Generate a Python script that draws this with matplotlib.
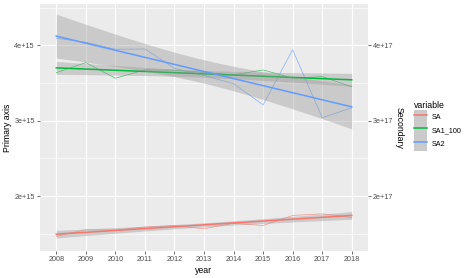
import numpy as np
import matplotlib
matplotlib.use("Agg")
import matplotlib.pyplot as plt
from matplotlib.patches import Patch
from matplotlib.lines import Line2D
from matplotlib.ticker import FuncFormatter, FixedLocator

plt.rcParams['font.family'] = ['Liberation Sans', 'DejaVu Sans']

years = [2008, 2009, 2010, 2011, 2012, 2013, 2014, 2015, 2016, 2017, 2018]
sa = [1.468, 1.554, 1.550, 1.590, 1.610, 1.567, 1.640, 1.610, 1.743, 1.765, 1.716]
sa1_100 = [3.637, 3.770, 3.563, 3.673, 3.670, 3.640, 3.607, 3.673, 3.563, 3.584, 3.450]
sa2 = [4.093, 4.040, 3.947, 3.950, 3.695, 3.600, 3.490, 3.210, 3.940, 3.040, 3.170]
series_names = ["SA", "SA1_100", "SA2"]
series_vals = [sa, sa1_100, sa2]
colors = ["#F8766D", "#00BA38", "#619CFF"]
scale = 1e15
sec_factor = 100
y_ticks = [2e15, 3e15, 4e15]
y_minor = [1.5e15, 2.5e15, 3.5e15, 4.5e15]

W, H = 474, 278
fig = plt.figure(figsize=(W / 100, H / 100), dpi=100)
ax = fig.add_axes([40 / W, 27 / H, 328 / W, 247 / H])
ax.set_facecolor('#EBEBEB')
for s in ax.spines.values():
    s.set_visible(False)

x = np.array(years, dtype=float)
# raw lines
for vals, c in zip(series_vals, colors):
    ax.plot(x, np.array(vals) * scale, color=c, lw=0.5, alpha=0.75, zorder=2)

# lm smooth with 95% CI
t975 = 2.262
xs = np.linspace(x.min(), x.max(), 80)
for vals, c in zip(series_vals, colors):
    y = np.array(vals) * scale
    b, a = np.polyfit(x, y, 1)
    fit = a + b * xs
    resid = y - (a + b * x)
    n = len(x)
    s = np.sqrt(np.sum(resid ** 2) / (n - 2))
    sxx = np.sum((x - x.mean()) ** 2)
    se = s * np.sqrt(1 / n + (xs - x.mean()) ** 2 / sxx)
    ax.fill_between(xs, fit - t975 * se, fit + t975 * se, color='#999999', alpha=0.4, lw=0, zorder=3)
    ax.plot(xs, fit, color=c, lw=1.1, zorder=3)

ax.set_xlim(2007.45, 2018.55)
ax.set_ylim(1.272e15, 4.547e15)
ax.set_xticks(years)
ax.set_yticks(y_ticks)
ax.yaxis.set_minor_locator(FixedLocator(y_minor))
ax.yaxis.set_major_formatter(FuncFormatter(lambda v, p: f"{int(round(v / 1e15))}e+15"))
ax.grid(which='major', color='white', lw=0.9, zorder=1)
ax.grid(which='minor', axis='y', color='white', lw=0.45, zorder=1)
ax.set_axisbelow(True)
ax.tick_params(which='major', length=2.2, width=0.5, color='#333333', labelcolor='#4D4D4D', labelsize=5.2, pad=1.5)
ax.tick_params(which='minor', length=0)

sec = ax.secondary_yaxis('right', functions=(lambda v: v * sec_factor, lambda v: v / sec_factor))
sec.set_yticks([t * sec_factor for t in y_ticks])
sec.yaxis.set_major_formatter(FuncFormatter(lambda v, p: f"{int(round(v / 1e17))}e+17"))
sec.tick_params(length=2.2, width=0.5, color='#333333', labelcolor='#4D4D4D', labelsize=5.2, pad=1.5)
for s in sec.spines.values():
    s.set_visible(False)
sec.set_ylabel("Secondary", rotation=270, fontsize=6.3, va='center', ha='center')
sec.yaxis.set_label_coords(399 / W, 1 - 127.5 / H, transform=fig.transFigure)

ax.set_xlabel("year", fontsize=6.3, labelpad=2)
ax.set_ylabel("Primary axis", fontsize=6.3, va='center')
ax.yaxis.set_label_coords((8 - 40) / 328, 0.5)

handles = [(Patch(facecolor='#CACACA', edgecolor='none'), Line2D([], [], color=c, lw=1.1)) for c in colors]
leg = fig.legend(handles, series_names, title="variable", loc='upper left',
                 bbox_to_anchor=(412 / W, 1 - 99 / H), frameon=False, fontsize=5.2,
                 title_fontsize=6.3, handlelength=1.77, handleheight=2.5, labelspacing=0,
                 handletextpad=0.7, borderpad=0.3, borderaxespad=0)
leg._legend_box.align = "left"

fig.savefig("out.png", dpi=100)
